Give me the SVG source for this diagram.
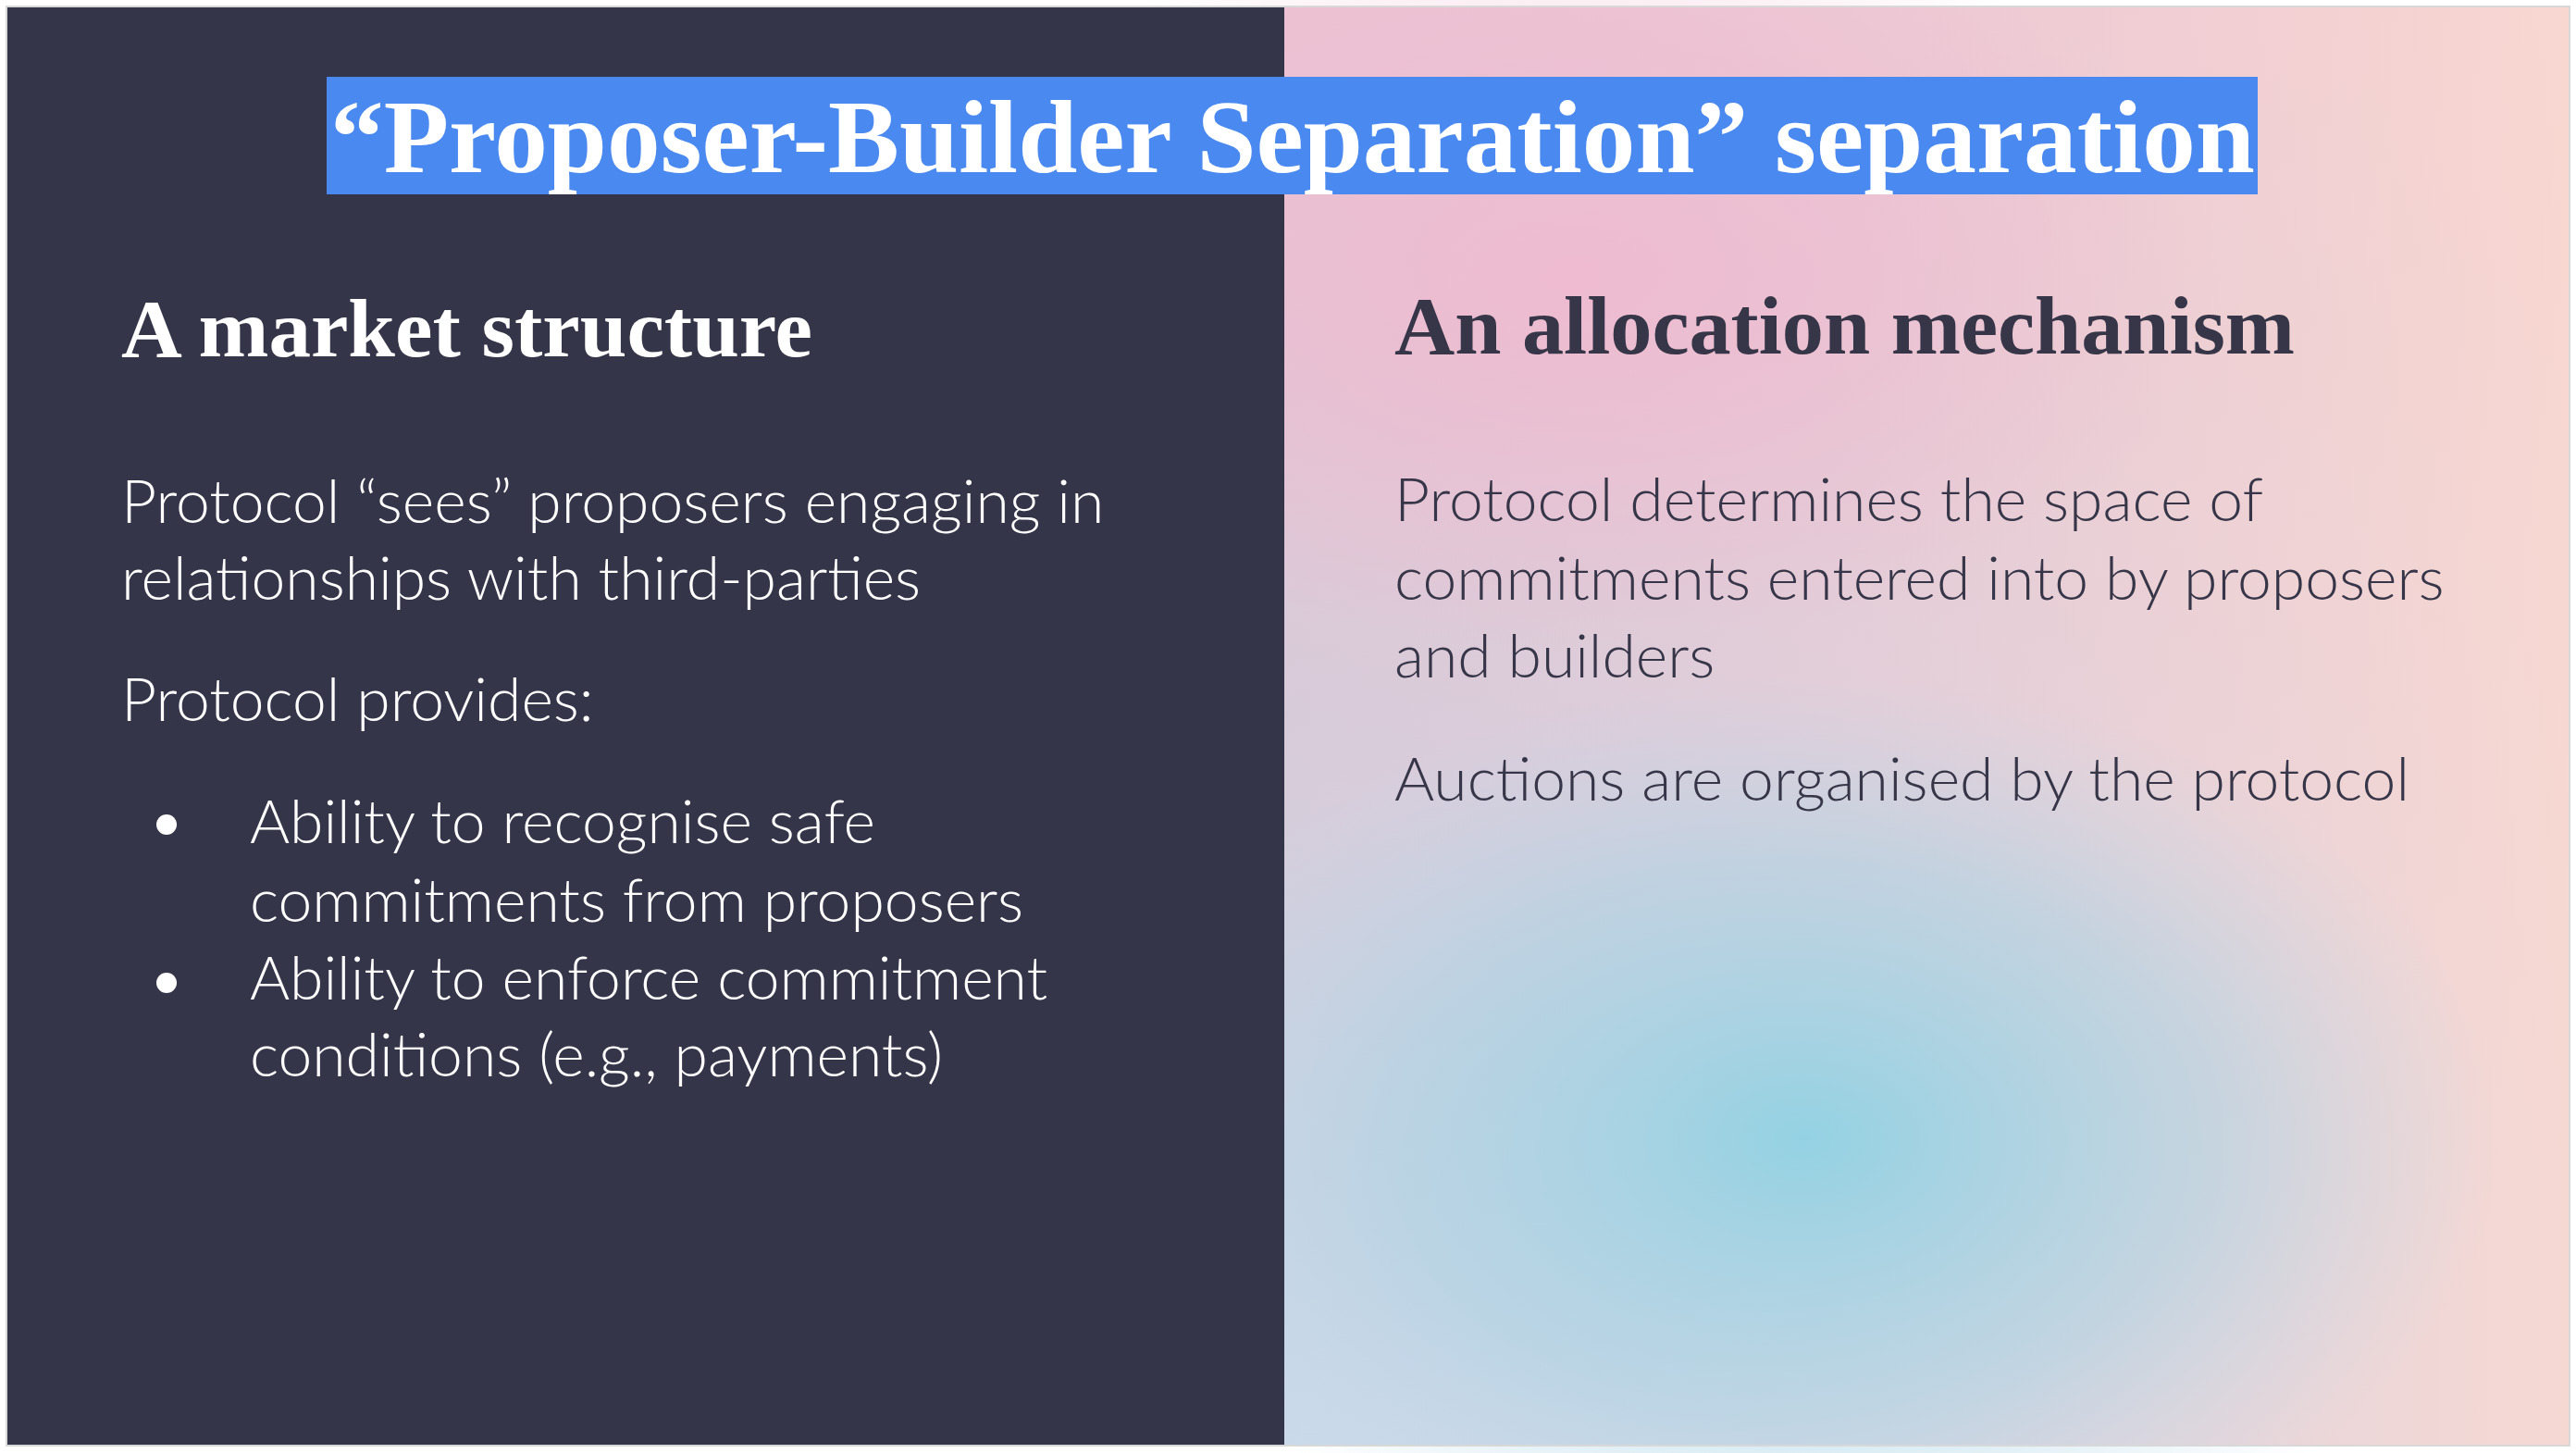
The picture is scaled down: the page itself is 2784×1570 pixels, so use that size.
<svg xmlns="http://www.w3.org/2000/svg" width="2784" height="1570" viewBox="0 0 2784 1570">
<defs>
<linearGradient id="bg" x1="0" y1="0" x2="0.3" y2="1">
<stop offset="0" stop-color="#ecc3d3"/>
<stop offset="0.45" stop-color="#d8cbd9"/>
<stop offset="1" stop-color="#c8dcec"/>
</linearGradient>
<linearGradient id="tr" x1="0" y1="0" x2="1" y2="0">
<stop offset="0" stop-color="#f3c6d6" stop-opacity="0"/>
<stop offset="1" stop-color="#fbd8d0" stop-opacity="0.9"/>
</linearGradient>
<radialGradient id="blue" cx="0.5" cy="0.5" r="0.5">
<stop offset="0" stop-color="#90d2e3" stop-opacity="0.95"/>
<stop offset="0.6" stop-color="#a5d3e4" stop-opacity="0.5"/>
<stop offset="1" stop-color="#b8d8ea" stop-opacity="0"/>
</radialGradient>
<radialGradient id="pink" cx="0.5" cy="0.5" r="0.5">
<stop offset="0" stop-color="#efb9cf" stop-opacity="0.9"/>
<stop offset="1" stop-color="#efb9cf" stop-opacity="0"/>
</radialGradient>
</defs>
<style>
.h{font-family:"Liberation Serif",serif;font-weight:bold}
.b{font-family:Lato,"Liberation Sans",sans-serif;font-weight:300;font-size:66px}
.w{fill:#ffffff}.d{fill:#363648}
</style>
<rect width="2784" height="1570" fill="#ffffff"/>
<g id="right-panel">
<rect x="1388" y="7" width="1389" height="1555" fill="url(#bg)"/>
<rect x="1388" y="7" width="1389" height="1555" fill="url(#tr)"/>
<ellipse cx="1700" cy="300" rx="700" ry="400" fill="url(#pink)"/>
<ellipse cx="1950" cy="1230" rx="750" ry="500" fill="url(#blue)"/>
</g>
<g id="left-panel"><rect x="7" y="7" width="1381" height="1555" fill="#353549"/></g>
<rect x="7" y="7" width="2770" height="1555" fill="none" stroke="#d8d8d8" stroke-width="2"/>
<g id="title">
<rect x="353" y="83" width="2087" height="127" fill="#4a89f0"/>
<text x="357" y="186" class="h w" font-size="112" textLength="2080" lengthAdjust="spacingAndGlyphs">“Proposer-Builder Separation” separation</text>
</g>
<g id="left">
<text x="131" y="385" class="h w" font-size="88" textLength="747" lengthAdjust="spacingAndGlyphs">A market structure</text>
<text x="131" y="565" class="b w">Protocol “sees” proposers engaging in</text>
<text x="131" y="648" class="b w">relationships with third-parties</text>
<text x="131" y="779" class="b w">Protocol provides:</text>
<circle cx="180" cy="891" r="11" fill="#fff"/>
<circle cx="180" cy="1062" r="11" fill="#fff"/>
<text x="270" y="911" class="b w">Ability to recognise safe</text>
<text x="270" y="996" class="b w">commitments from proposers</text>
<text x="270" y="1080" class="b w">Ability to enforce commitment</text>
<text x="270" y="1163" class="b w">conditions (e.g., payments)</text>
</g>
<g id="right">
<text x="1507" y="382" class="h d" font-size="88" textLength="973" lengthAdjust="spacingAndGlyphs">An allocation mechanism</text>
<text x="1507" y="563" class="b d">Protocol determines the space of</text>
<text x="1507" y="648" class="b d">commitments entered into by proposers</text>
<text x="1507" y="732" class="b d">and builders</text>
<text x="1507" y="865" class="b d">Auctions are organised by the protocol</text>
</g>
</svg>
